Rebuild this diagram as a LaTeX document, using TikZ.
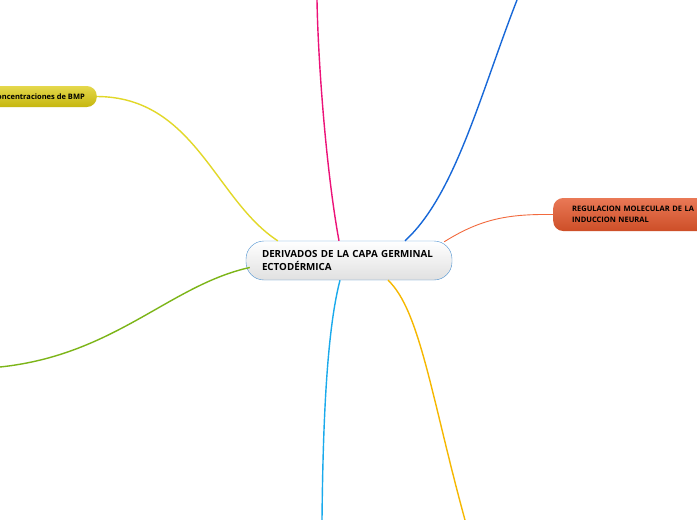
\documentclass[tikz,border=0pt]{standalone}
\usepackage{fontspec}
\setmainfont{Open Sans}
\usepackage{tikz}
\usetikzlibrary{positioning}

\definecolor{rimblue}{HTML}{4A90D0}
\definecolor{bmpyellow}{HTML}{DCCB10}
\definecolor{regorange}{HTML}{E4572C}

\begin{document}
\begin{tikzpicture}[x=1pt,y=-1pt,
    branch/.style={line width=1.4pt},
    topic/.style={rounded corners=10pt,font=\bfseries\fontsize{7.5}{10.5}\selectfont,align=left}]
         \useasboundingbox[fill=white] (0,0) rectangle (697,520);
         % main topic
         \node[draw=rimblue,thin,rounded corners=18pt,top color=white,bottom color=black!12,
               minimum width=206pt,minimum height=39pt,text width=174pt,align=left,
               font=\bfseries\fontsize{9.8}{12.5}\selectfont] (deriv) at (349,260.5)
               {DERIVADOS DE LA CAPA GERMINAL\\ECTOD\'ERMICA};
         % subtopics
         \node[topic,top color=bmpyellow!75!white,bottom color=bmpyellow!90!black,
               minimum height=21pt,inner xsep=12pt,anchor=east] (bmp) at (97,96.5)
               {concentraciones de BMP};
         \node[topic,top color=regorange!80!white,bottom color=regorange!90!black,
               minimum height=33pt,inner xsep=19pt,anchor=west,text width=160pt] (regul) at (553,214.5)
               {REGULACION MOLECULAR DE LA\\INDUCCION NEURAL};
         % free ends
         \coordinate (upA) at (317,0);
         \coordinate (upB) at (517,0);
         \coordinate (leftC) at (0,367);
         \coordinate (downD) at (322,520);
         \coordinate (downE) at (465,520);
         % branches
         \draw[branch,color={rgb,255:red,236;green,18;blue,120}] (deriv.north) ++(-10,0) .. controls (326,170) and (318,60) .. (upA);
         \draw[branch,color={rgb,255:red,24;green,104;blue,216}] (deriv.north) ++(56,0) .. controls (455,195) and (480,95) .. (upB);
         \draw[branch,line width=0.9pt,color={rgb,255:red,242;green,106;blue,62}] (deriv.north east) ++(-8,1) .. controls (482,218) and (510,214) .. (regul.west);
         \draw[branch,color={rgb,255:red,226;green,216;blue,40}] (deriv.north west) ++(32,0) .. controls (215,200) and (195,97) .. (bmp.east);
         \draw[branch,color={rgb,255:red,124;green,181;blue,24}] (deriv.west) ++(4,7) .. controls (170,285) and (115,355) .. (leftC);
         \draw[branch,color={rgb,255:red,26;green,170;blue,236}] (deriv.south) ++(-9,0) .. controls (327,330) and (323,420) .. (downD);
         \draw[branch,color={rgb,255:red,246;green,184;blue,0}] (deriv.south) ++(39,0) .. controls (420,310) and (432,400) .. (downE);
      \end{tikzpicture}
\end{document}
